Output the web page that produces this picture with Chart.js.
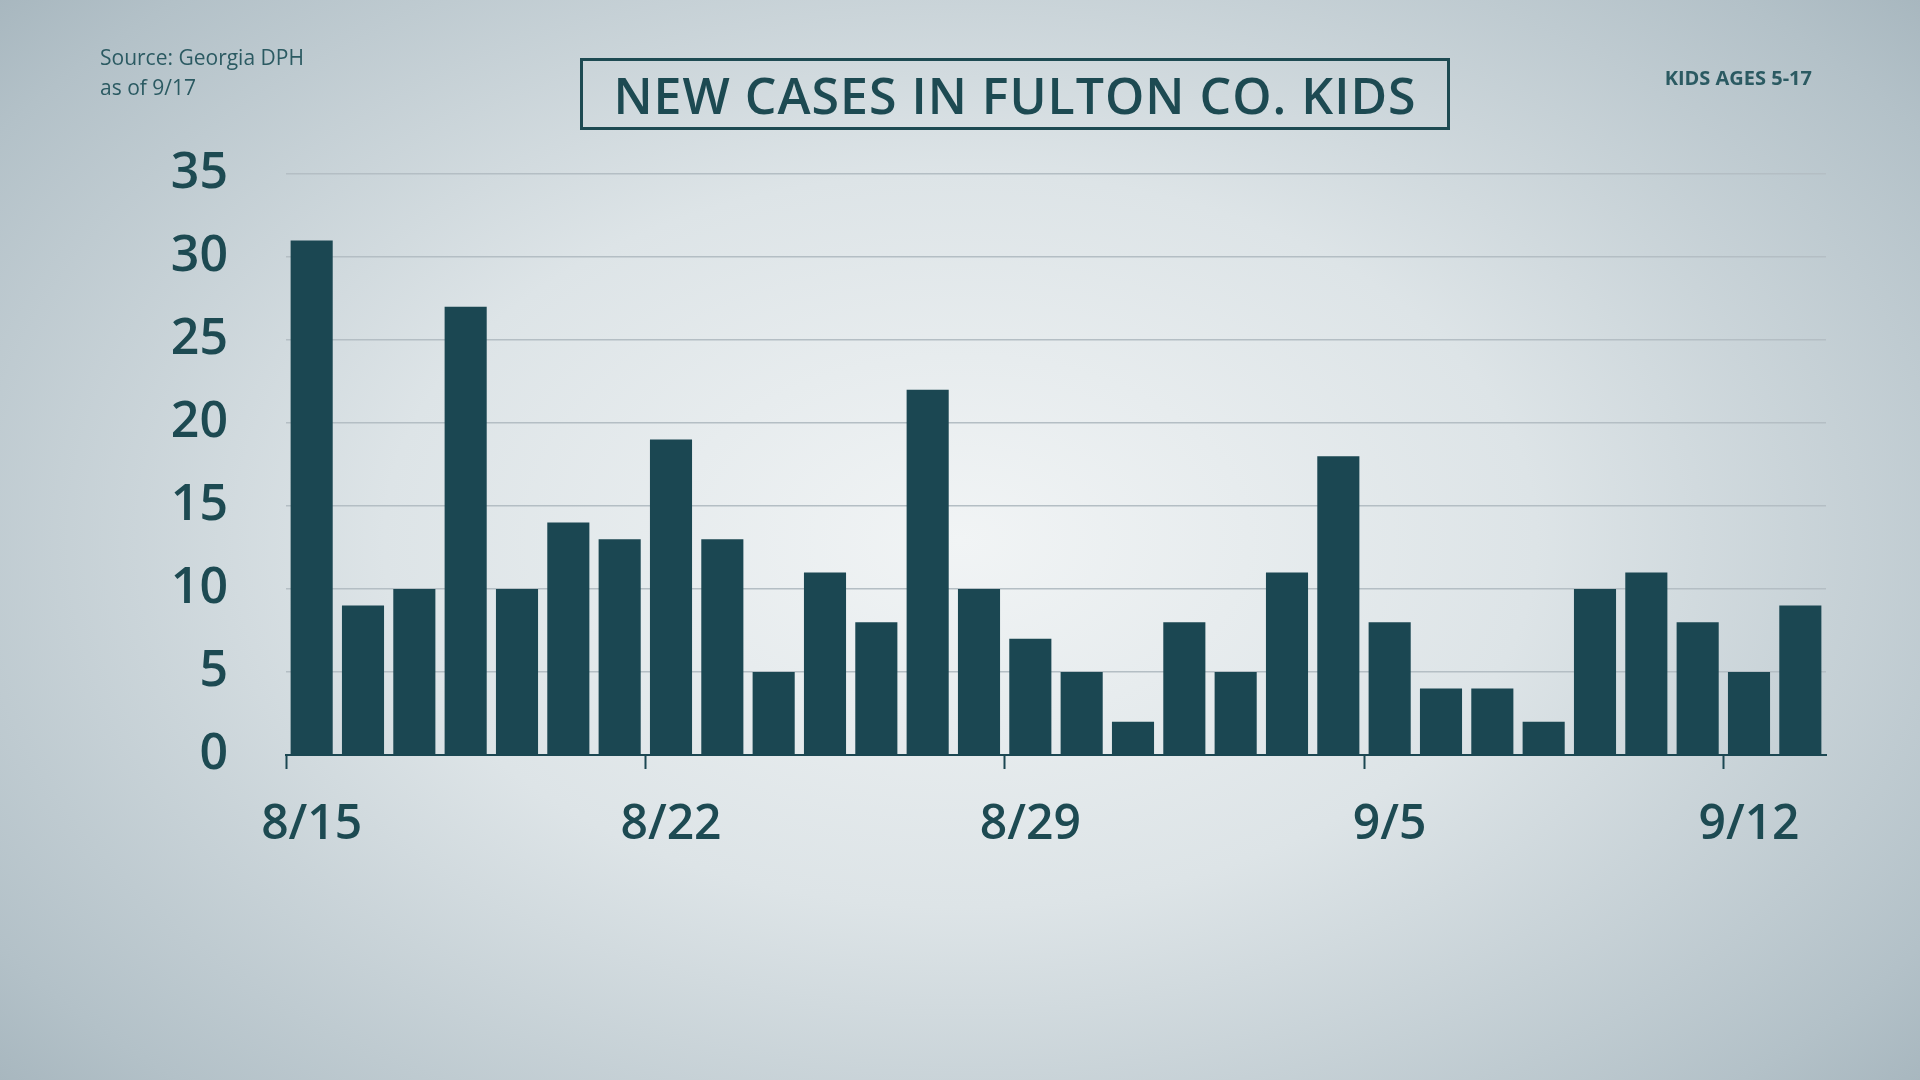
<!DOCTYPE html>
<html><head><meta charset="utf-8">
<script src="https://cdn.jsdelivr.net/npm/chart.js@4"></script>
<style>
html,body{margin:0;padding:0;width:1920px;height:1080px;overflow:hidden;}
body{background:radial-gradient(ellipse 75% 85% at 50% 50%, #f1f4f5 0%, #dde4e7 40%, #b3c1c8 80%, #9aabb4 100%);font-family:"Open Sans",sans-serif;color:#1d4a52;position:relative;}
#c{position:absolute;left:0;top:0;}
.title{position:absolute;left:580px;top:58px;width:870px;height:72px;border:3px solid #1d4a52;box-sizing:border-box;text-align:center;font-size:50px;line-height:68px;font-weight:600;letter-spacing:1px;}
.src{position:absolute;left:100px;top:42px;font-size:21px;line-height:30px;color:#2b5a62;}
.kids{position:absolute;right:108px;top:64px;font-size:20px;font-weight:700;color:#2b5a62;}
</style></head><body>
<canvas id="c" width="1920" height="1080"></canvas>
<div class="src">Source: Georgia DPH<br>as of 9/17</div>
<div class="title">NEW CASES IN FULTON CO. KIDS</div>
<div class="kids">KIDS AGES 5-17</div>
<script>
const dates = ["8/15","8/16","8/17","8/18","8/19","8/20","8/21","8/22","8/23","8/24","8/25","8/26","8/27","8/28","8/29","8/30","8/31","9/1","9/2","9/3","9/4","9/5","9/6","9/7","9/8","9/9","9/10","9/11","9/12","9/13"];
const newCases = [31,9,10,27,10,14,13,19,13,5,11,8,22,10,7,5,2,8,5,11,18,8,4,4,2,10,11,8,5,9];
const yTicks = [0,5,10,15,20,25,30,35];
const teal = "#1b4752";
new Chart(document.getElementById("c"), {
  type: "bar",
  data: { labels: dates, datasets: [{ data: newCases, backgroundColor: teal, categoryPercentage: 0.82, barPercentage: 1 }] },
  options: {
    responsive: false, animation: false,
    layout: { padding: { left: 0, right: 94, top: 174, bottom: 0 } },
    plugins: { legend: { display: false }, tooltip: { enabled: false } },
    scales: {
      x: {
        offset: true,
        grid: { offset: true, drawOnChartArea: false, drawTicks: true, tickLength: 14, tickWidth: 2, tickColor: (c) => (c.index % 7 === 0 ? teal : "rgba(0,0,0,0)") },
        border: { display: true, color: teal, width: 2 },
        ticks: { autoSkip: false, maxRotation: 0, padding: 28, color: "#1d4a52", font: { family: "Open Sans", size: 48, weight: "600" },
          callback: (v, i) => (i % 7 === 0 ? dates[i] : "") },
        afterFit: (s) => { s.height = 1080 - 755; }
      },
      y: {
        min: 0, max: 35,
        afterBuildTicks: (s) => { s.ticks = yTicks.map(v => ({ value: v })); },
        grid: { color: "#b4bec4", lineWidth: 1.5, drawTicks: false },
        border: { display: false },
        ticks: { padding: 58, color: "#1d4a52", font: { family: "Open Sans", size: 50, weight: "600" } },
        afterFit: (s) => { s.width = 286; }
      }
    }
  }
});
</script>
</body></html>
